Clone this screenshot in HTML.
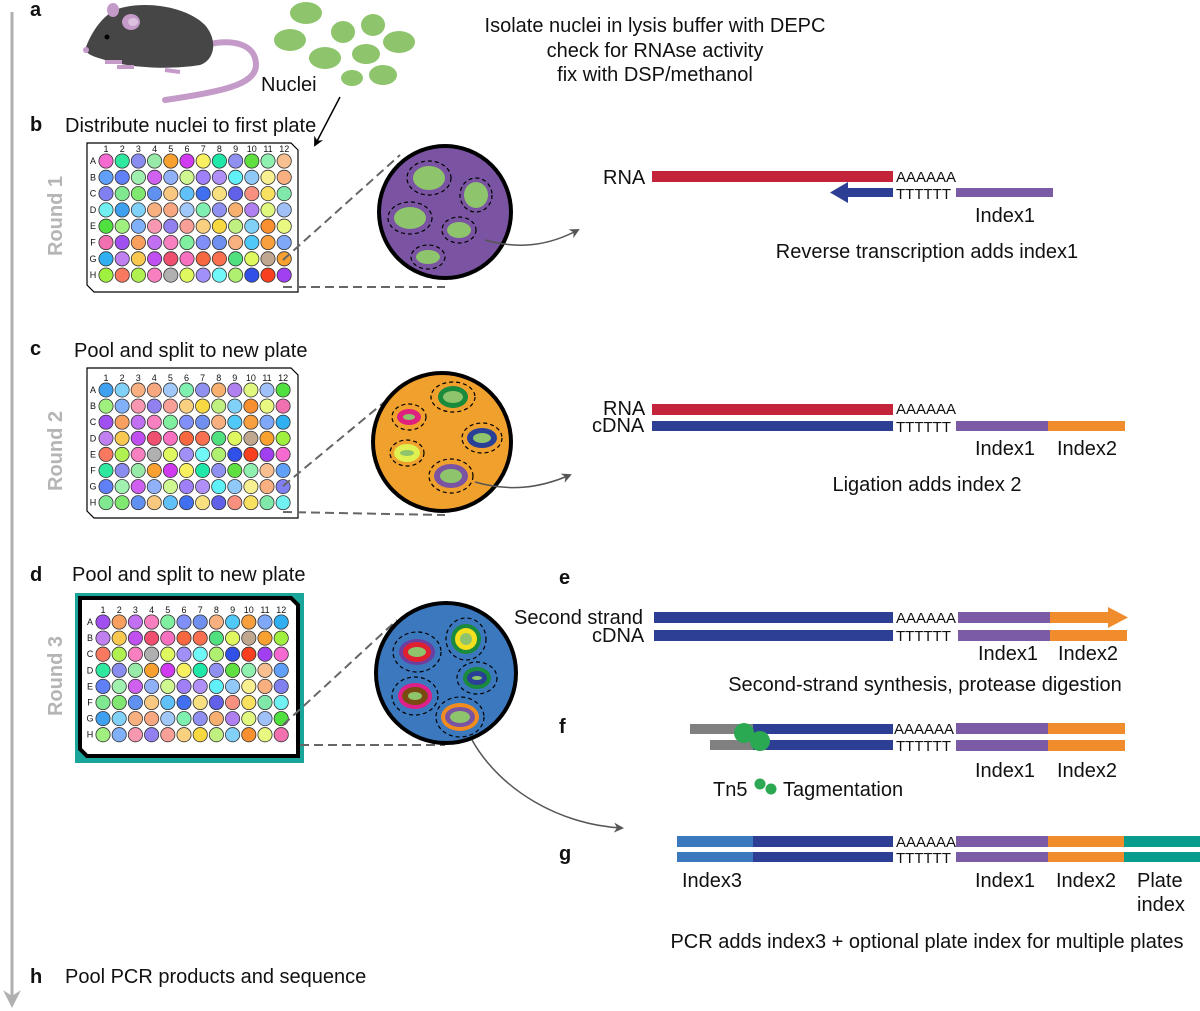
<!DOCTYPE html>
<html><head><meta charset="utf-8"><style>
html,body{margin:0;padding:0;background:#fff}
svg{display:block}
text{font-family:"Liberation Sans",Arial,sans-serif;fill:#111}
.l{font-size:20px}
.b{font-size:20px;font-weight:bold}
.s{font-size:15px}
.t{font-size:9px}
</style></head><body>
<svg id="s" width="1200" height="1011" viewBox="0 0 1200 1011" xmlns="http://www.w3.org/2000/svg">
<defs>
<marker id="ah" markerWidth="10" markerHeight="10" refX="8" refY="5" orient="auto" markerUnits="userSpaceOnUse"><path d="M0,0 L10,5 L0,10 L3,5 Z" fill="#555"/></marker>
<marker id="ak" markerWidth="10" markerHeight="10" refX="8" refY="5" orient="auto" markerUnits="userSpaceOnUse"><path d="M0,0 L10,5 L0,10 L3,5 Z" fill="#000"/></marker>
</defs>
<line x1="12" y1="12" x2="12" y2="998" stroke="#b0b0b0" stroke-width="3"/>
<path d="M3,990 L12,1008 L21,990 L12,996 Z" fill="#b0b0b0"/>
<text x="30" y="16" class="b">a</text>
<text x="30" y="131" class="b">b</text>
<text x="30" y="355" class="b">c</text>
<text x="30" y="581" class="b">d</text>
<text x="559" y="584" class="b">e</text>
<text x="559" y="733" class="b">f</text>
<text x="559" y="860" class="b">g</text>
<text x="30" y="983" class="b">h</text>
<path d="M205,45 C235,38 256,45 256,65 C256,85 220,92 165,100" fill="none" stroke="#c49ac8" stroke-width="6" stroke-linecap="round"/>
<path d="M85,50 C90,35 100,18 115,10 C140,0 185,5 205,25 C218,40 215,60 200,65 C170,70 130,68 105,60 C95,57 88,55 85,50Z" fill="#464646"/>
<ellipse cx="113" cy="10" rx="6" ry="7" fill="#c49ac8"/>
<ellipse cx="131" cy="22" rx="9" ry="8" fill="#c49ac8"/>
<ellipse cx="133" cy="22" rx="5" ry="4" fill="#dcc0e0"/>
<circle cx="107" cy="37" r="2.5" fill="#000"/>
<ellipse cx="86" cy="50" rx="3" ry="3" fill="#c49ac8"/>
<path d="M105,62 L122,62 M117,67 L134,67 M165,70 L180,72" stroke="#c49ac8" stroke-width="4"/>
<g fill="#8ec46c">
<ellipse cx="306" cy="13" rx="16" ry="11"/><ellipse cx="290" cy="40" rx="16" ry="11"/>
<ellipse cx="343" cy="32" rx="12" ry="11"/><ellipse cx="373" cy="25" rx="12" ry="11"/>
<ellipse cx="325" cy="58" rx="16" ry="11"/><ellipse cx="366" cy="54" rx="14" ry="10"/>
<ellipse cx="399" cy="42" rx="16" ry="11"/><ellipse cx="352" cy="78" rx="11" ry="8"/><ellipse cx="383" cy="75" rx="14" ry="10"/>
</g>
<text x="261" y="91" class="l">Nuclei</text>
<line x1="340" y1="97" x2="315" y2="145" stroke="#000" stroke-width="1.5" marker-end="url(#ak)"/>
<text x="655" y="32" class="l" text-anchor="middle">Isolate nuclei in lysis buffer with DEPC</text>
<text x="655" y="57" class="l" text-anchor="middle">check for RNAse activity</text>
<text x="655" y="81" class="l" text-anchor="middle">fix with DSP/methanol</text>
<text x="65" y="132" class="l">Distribute nuclei to first plate</text>
<text x="74" y="357" class="l">Pool and split to new plate</text>
<text x="72" y="581" class="l">Pool and split to new plate</text>
<text x="65" y="983" class="l">Pool PCR products and sequence</text>
<text transform="translate(62,256) rotate(-90)" style="fill:#b5b5b5;font-size:20px;font-weight:bold">Round 1</text>
<text transform="translate(62,491) rotate(-90)" style="fill:#b5b5b5;font-size:20px;font-weight:bold">Round 2</text>
<text transform="translate(62,716) rotate(-90)" style="fill:#b5b5b5;font-size:20px;font-weight:bold">Round 3</text>
<path d="M87,143 L291,143 L298,150 L298,292 L94,292 L87,285 Z" fill="#fff" stroke="#000" stroke-width="1.2"/>
<path d="M87,368 L291,368 L298,375 L298,518 L94,518 L87,511 Z" fill="#fff" stroke="#000" stroke-width="1.2"/>
<rect x="75" y="593" width="229" height="170" fill="#1aa59a"/>
<path d="M80,598 L291,598 L298,605 L298,756 L87,756 L80,749 Z" fill="#fff" stroke="#000" stroke-width="4"/>
<g id="wells"></g>
<g stroke="#666" stroke-width="2" stroke-dasharray="9,5" fill="none">
<line x1="283" y1="260" x2="400" y2="155"/><line x1="283" y1="287" x2="445" y2="287"/>
<line x1="283" y1="486" x2="405" y2="385"/><line x1="283" y1="512" x2="445" y2="515"/>
<line x1="283" y1="725" x2="397" y2="620"/><line x1="300" y1="745" x2="445" y2="745"/>
</g>
<circle cx="445" cy="212" r="66" fill="#7a54a2" stroke="#000" stroke-width="4"/>
<g fill="#8ec46c"><ellipse cx="429" cy="178" rx="16" ry="12"/><ellipse cx="476" cy="195" rx="12" ry="13"/><ellipse cx="410" cy="218" rx="16" ry="11"/><ellipse cx="459" cy="230" rx="12" ry="8"/><ellipse cx="428" cy="257" rx="12" ry="7"/></g>
<g fill="none" stroke="#000" stroke-dasharray="4,3" stroke-width="1.2"><ellipse cx="429" cy="178" rx="22" ry="17"/><ellipse cx="476" cy="195" rx="16" ry="17"/><ellipse cx="410" cy="218" rx="22" ry="16"/><ellipse cx="459" cy="230" rx="17" ry="13"/><ellipse cx="428" cy="257" rx="17" ry="12"/></g>
<path d="M485,240 C520,250 550,245 578,230" fill="none" stroke="#555" stroke-width="1.5" marker-end="url(#ah)"/>
<circle cx="442" cy="442" r="69" fill="#f0a02c" stroke="#000" stroke-width="4"/>
<g fill="none" stroke="#000" stroke-dasharray="4,3" stroke-width="1.2"><ellipse cx="453" cy="397" rx="22" ry="15"/><ellipse cx="409" cy="417" rx="17" ry="13"/><ellipse cx="482" cy="438" rx="20" ry="15"/><ellipse cx="407" cy="453" rx="17" ry="13"/><ellipse cx="451" cy="476" rx="22" ry="17"/></g>
<ellipse cx="453" cy="397" rx="15" ry="11" fill="#1a8a3c"/><ellipse cx="453" cy="397" rx="10" ry="6" fill="#8ec46c"/>
<ellipse cx="409" cy="417" rx="12" ry="8" fill="#e0207f"/><ellipse cx="409" cy="417" rx="6" ry="3" fill="#8ec46c"/>
<ellipse cx="482" cy="438" rx="15" ry="10" fill="#2a3f96"/><ellipse cx="482" cy="438" rx="9" ry="5" fill="#8ec46c"/>
<ellipse cx="407" cy="453" rx="13" ry="9" fill="#e0f050"/><ellipse cx="407" cy="453" rx="7" ry="3" fill="#8ec46c"/>
<ellipse cx="451" cy="476" rx="17" ry="12" fill="#7a54a2"/><ellipse cx="451" cy="476" rx="11" ry="7" fill="#8ec46c"/>
<path d="M475,482 C510,492 540,488 570,475" fill="none" stroke="#555" stroke-width="1.5" marker-end="url(#ah)"/>
<circle cx="446" cy="673" r="70" fill="#3b78bd" stroke="#000" stroke-width="4"/>
<g fill="none" stroke="#000" stroke-dasharray="4,3" stroke-width="1.2"><ellipse cx="417" cy="652" rx="24" ry="20"/><ellipse cx="466" cy="639" rx="20" ry="21"/><ellipse cx="477" cy="678" rx="20" ry="16"/><ellipse cx="415" cy="696" rx="23" ry="19"/><ellipse cx="460" cy="717" rx="24" ry="20"/></g>
<ellipse cx="417" cy="652" rx="18" ry="13" fill="#6b3fa0"/><ellipse cx="417" cy="652" rx="14" ry="10" fill="#e02030"/><ellipse cx="417" cy="652" rx="9" ry="5" fill="#8ec46c"/>
<ellipse cx="466" cy="639" rx="15" ry="15" fill="#1a8a3c"/><ellipse cx="466" cy="639" rx="11" ry="11" fill="#f5e020"/><ellipse cx="466" cy="639" rx="6" ry="6" fill="#8ec46c"/>
<ellipse cx="477" cy="678" rx="14" ry="11" fill="#1a8a3c"/><ellipse cx="477" cy="678" rx="10" ry="7" fill="#2a3f96"/><ellipse cx="477" cy="678" rx="5" ry="2" fill="#8ec46c"/>
<ellipse cx="415" cy="696" rx="17" ry="13" fill="#e0208a"/><ellipse cx="415" cy="696" rx="13" ry="9" fill="#7a4a10"/><ellipse cx="415" cy="696" rx="7" ry="4" fill="#8ec46c"/>
<ellipse cx="460" cy="717" rx="19" ry="14" fill="#f08c20"/><ellipse cx="460" cy="717" rx="15" ry="10" fill="#7a54a2"/><ellipse cx="460" cy="717" rx="10" ry="6" fill="#8ec46c"/>
<path d="M472,740 C500,790 560,825 622,828" fill="none" stroke="#555" stroke-width="1.5" marker-end="url(#ah)"/>
<text x="603" y="184" class="l">RNA</text>
<rect x="652" y="171" width="241" height="11" fill="#c3243a"/>
<text x="896" y="182" class="s">AAAAAA</text>
<rect x="848" y="188" width="45" height="9" fill="#2c3f94"/><path d="M848,182 L830,192.5 L848,203 Z" fill="#2c3f94"/>
<text x="896" y="199" class="s">TTTTTT</text>
<rect x="956" y="188" width="97" height="9" fill="#7b5ba6"/>
<text x="975" y="222" class="l">Index1</text>
<text x="927" y="258" class="l" text-anchor="middle">Reverse transcription adds index1</text>
<text x="603" y="415" class="l">RNA</text>
<text x="592" y="432" class="l">cDNA</text>
<rect x="652" y="404" width="241" height="11" fill="#c3243a"/>
<rect x="652" y="421" width="241" height="10" fill="#2c3f94"/>
<text x="896" y="414" class="s">AAAAAA</text>
<text x="896" y="432" class="s">TTTTTT</text>
<rect x="956" y="421" width="92" height="10" fill="#7b5ba6"/><rect x="1048" y="421" width="77" height="10" fill="#f08c2c"/>
<text x="975" y="455" class="l">Index1</text><text x="1057" y="455" class="l">Index2</text>
<text x="927" y="491" class="l" text-anchor="middle">Ligation adds index 2</text>
<text x="514" y="624" class="l">Second strand</text>
<text x="592" y="642" class="l">cDNA</text>
<rect x="654" y="612" width="239" height="11" fill="#2c3f94"/>
<rect x="654" y="630" width="239" height="11" fill="#2c3f94"/>
<text x="896" y="623" class="s">AAAAAA</text><text x="896" y="641" class="s">TTTTTT</text>
<rect x="958" y="612" width="92" height="11" fill="#7b5ba6"/><rect x="1050" y="612" width="60" height="11" fill="#f08c2c"/><path d="M1108,607 L1128,617.5 L1108,628 Z" fill="#f08c2c"/>
<rect x="958" y="630" width="92" height="11" fill="#7b5ba6"/><rect x="1050" y="630" width="77" height="11" fill="#f08c2c"/>
<text x="978" y="660" class="l">Index1</text><text x="1058" y="660" class="l">Index2</text>
<text x="925" y="691" class="l" text-anchor="middle">Second-strand synthesis, protease digestion</text>
<rect x="690" y="724" width="63" height="10" fill="#808080"/><rect x="753" y="724" width="140" height="10" fill="#2c3f94"/>
<rect x="710" y="740" width="43" height="10" fill="#808080"/><rect x="753" y="740" width="140" height="10" fill="#2c3f94"/>
<circle cx="744" cy="733" r="10" fill="#2aa852"/><circle cx="760" cy="741" r="10" fill="#2aa852"/>
<text x="894" y="734" class="s">AAAAAA</text><text x="896" y="751" class="s">TTTTTT</text>
<rect x="956" y="723" width="92" height="11" fill="#7b5ba6"/><rect x="1048" y="723" width="77" height="11" fill="#f08c2c"/>
<rect x="956" y="740" width="92" height="11" fill="#7b5ba6"/><rect x="1048" y="740" width="77" height="11" fill="#f08c2c"/>
<text x="975" y="777" class="l">Index1</text><text x="1057" y="777" class="l">Index2</text>
<text x="713" y="796" class="l">Tn5</text>
<circle cx="760" cy="784" r="5.5" fill="#2aa852"/><circle cx="771" cy="789" r="5.5" fill="#2aa852"/>
<text x="783" y="796" class="l">Tagmentation</text>
<rect x="677" y="836" width="76" height="11" fill="#3b78bd"/><rect x="753" y="836" width="140" height="11" fill="#2c3f94"/>
<rect x="677" y="852" width="76" height="10" fill="#3b78bd"/><rect x="753" y="852" width="140" height="10" fill="#2c3f94"/>
<text x="896" y="847" class="s">AAAAAA</text><text x="896" y="863" class="s">TTTTTT</text>
<rect x="956" y="836" width="92" height="11" fill="#7b5ba6"/><rect x="1048" y="836" width="76" height="11" fill="#f08c2c"/><rect x="1124" y="836" width="76" height="11" fill="#079c8c"/>
<rect x="956" y="852" width="92" height="10" fill="#7b5ba6"/><rect x="1048" y="852" width="76" height="10" fill="#f08c2c"/><rect x="1124" y="852" width="76" height="10" fill="#079c8c"/>
<text x="682" y="887" class="l">Index3</text><text x="975" y="887" class="l">Index1</text><text x="1056" y="887" class="l">Index2</text>
<text x="1137" y="887" class="l">Plate</text><text x="1137" y="911" class="l">index</text>
<text x="927" y="948" class="l" text-anchor="middle">PCR adds index3 + optional plate index for multiple plates</text>
</svg>
<script>
(function(){
var g=document.getElementById('wells'),ns='http://www.w3.org/2000/svg';
var pal=['#f46ad0','#2ee8a0','#8a8cf0','#98eaa8','#f8a030','#d03af0','#f8f060','#20e8a8','#9090f0','#60e040','#90f0b0','#f8c090','#60a0f8','#6080f8','#a0f0b0','#d060f0','#90b0f8','#d0f890','#a080f8','#b090f8','#60f0f8','#90c8f8','#f8f090','#f8b080','#8080f0','#80e890','#80e870','#6090f0','#f8c880','#60c0f8','#4070f0','#f8e080','#6060e8','#f89080','#f8e060','#80e8a8','#70f0f0','#40a0f0','#80d0f8','#f8b080','#f8a880','#a0c8f8','#80f0b0','#9090f0','#f8b070','#b080f0','#e0f880','#a0c0f8','#50e040','#a0f080','#80b0f8','#f898b0','#9080f0','#f8a098','#f8d080','#f8d840','#c0f080','#80d0f8','#f89030','#e8f880','#f070b0','#a050f0','#f8a060','#c070f0','#f880c0','#80f0a0','#8090f8','#7090f0','#f8b080','#50c8f8','#f8a040','#80a8f8','#30b0f0','#c080f0','#f8c850','#c050f0','#f05070','#f870c0','#f86840','#f87050','#50e080','#e0f860','#c0a890','#f8a030','#a0f040','#f87860','#b0f050','#f880c0','#b0b0b0','#e0f860','#a090f8','#70f8f8','#b0f070','#3050e8','#f84020','#a040f0'];
function plate(x0,y0,dx,dy,seed){
 var cols=['1','2','3','4','5','6','7','8','9','10','11','12'],rows='ABCDEFGH';
 for(var c=0;c<12;c++){var t=document.createElementNS(ns,'text');t.setAttribute('x',x0+c*dx);t.setAttribute('y',y0+3);t.setAttribute('class','t');t.setAttribute('text-anchor','middle');t.textContent=cols[c];g.appendChild(t);}
 for(var r=0;r<8;r++){var t=document.createElementNS(ns,'text');t.setAttribute('x',x0-13);t.setAttribute('y',y0+12+r*dy+3);t.setAttribute('class','t');t.setAttribute('text-anchor','middle');t.textContent=rows[r];g.appendChild(t);
  for(var c=0;c<12;c++){var e=document.createElementNS(ns,'circle');e.setAttribute('cx',x0+c*dx);e.setAttribute('cy',y0+12+r*dy);e.setAttribute('r',dx*0.44);e.setAttribute('fill',pal[(r*12+c+seed)%pal.length]);e.setAttribute('stroke','#333');e.setAttribute('stroke-width','0.8');g.appendChild(e);}}
}
plate(106,149,16.2,16.3,0);plate(106,378,16.1,16.1,37);plate(103,610,16.2,16.1,61);
})();
</script>
</body></html>
